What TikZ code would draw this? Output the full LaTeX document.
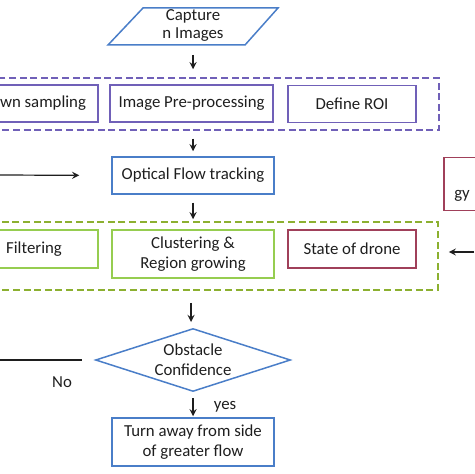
\documentclass[tikz,border=0pt]{standalone}
\usepackage{fontspec}
\setmainfont{Carlito}
\usepackage{xcolor}
\usetikzlibrary{shapes.geometric, arrows, positioning, calc}

\definecolor{flowblue}{RGB}{74,126,200}
\definecolor{prepurple}{RGB}{112,96,184}
\definecolor{grpgreen}{RGB}{140,176,48}
\definecolor{boxgreen}{RGB}{150,205,80}
\definecolor{dronered}{RGB}{160,64,90}
\definecolor{ink}{RGB}{30,30,30}

\begin{document}
\begin{tikzpicture}[
    x=0.5pt, y=-0.5pt,
    font=\fontsize{8.4}{10}\selectfont,
    box/.style={rectangle, draw=#1, line width=0.75pt, minimum width=81pt, minimum height=18.5pt, align=center, text=ink},
    group/.style={rectangle, draw=#1, line width=0.75pt, dash pattern=on 3.5pt off 1.8pt},
    arrow/.style={->, >=stealth, line width=0.6pt, ink}
]
\useasboundingbox (0,0) rectangle (474,474);

% input
\draw[flowblue, line width=0.75pt] (143,8) -- (278,8) -- (245,45) -- (108,45) -- cycle;
\node[align=center, inner sep=0pt, text=ink, font=\fontsize{8.4}{9}\selectfont] (cap) at (193,26) {Capture\\n Images};

% pre-processing stage
\node[group=prepurple, minimum width=239.5pt, minimum height=26pt] (pre) at (199.5,104) {};
\node[box=prepurple, minimum width=55pt] (down) at (43,103.5) {wn sampling};
\node[box=prepurple, minimum width=81.5pt] (prep) at (191.5,103.5) {Image Pre-processing};
\node[box=prepurple, minimum width=64pt] (roi) at (352,104) {Define ROI};

\node[box=flowblue] (flow) at (193,175.5) {Optical Flow tracking};

% cut-off box on the right
\node[box=dronered, minimum width=30pt, minimum height=26.5pt, anchor=north west] (side) at (443,157) {};
\node[inner sep=0pt, text=ink] (sidetxt) at (462,196) {gy};

% segmentation stage
\node[group=grpgreen, minimum width=239pt, minimum height=34pt] (seg) at (199,256) {};
\node[box=boxgreen, minimum width=64pt, minimum height=19pt] (filt) at (34,249) {Filtering};
\node[box=boxgreen, minimum height=24pt] (clus) at (193,254) {Clustering \&\\Region growing};
\node[box=dronered, minimum width=64pt, minimum height=19pt] (state) at (352,249) {State of drone};

\node[diamond, draw=flowblue, line width=0.75pt, aspect=3.1, inner sep=0pt, minimum width=97.5pt, minimum height=31.5pt, align=center, text=ink] (obst) at (193,360) {Obstacle\\Confidence};

\node[box=flowblue, minimum height=24pt] (turn) at (193,442) {Turn away from side\\of greater flow};

% loose ends
\coordinate (inflow) at (0,175);
\coordinate (inseg) at (474,252);
\coordinate (noend) at (0,360);
\coordinate (noturn) at (82,360);

\draw[arrow, shorten <=5pt, shorten >=4pt] (193,45) -- (pre.north -| cap);
\draw[arrow, shorten <=4pt, shorten >=2.5pt] (pre.south -| flow) -- (flow.north);
\draw[arrow, shorten >=16pt] (inflow) -- (flow.west);
\draw[arrow, shorten <=4pt, shorten >=1pt] (flow.south) -- (seg.north -| flow);
\draw[arrow, shorten >=5pt] (inseg) -- (seg.east |- inseg);
\draw[arrow, shorten <=6.5pt, shorten >=3pt] (191,290) -- (191,328);
\draw[line width=0.75pt, ink] (noend) -- (noturn);
\node[text=ink] (no) at (62,382) {No};
\draw[arrow, shorten <=3pt, shorten >=0.5pt] (obst.south) -- (turn.north);
\node[text=ink] (yes) at (225,407) {yes};

\end{tikzpicture}
\end{document}
